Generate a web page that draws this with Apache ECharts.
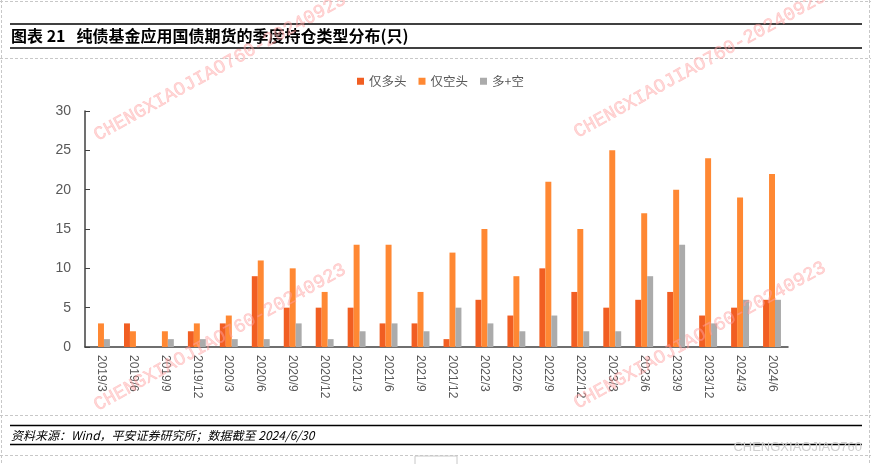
<!DOCTYPE html>
<html><head><meta charset="utf-8">
<script src="https://cdn.jsdelivr.net/npm/echarts@6/dist/echarts.min.js"></script>
<style>html,body{margin:0;padding:0;background:#fff}#c{width:871px;height:464px}</style>
</head><body><div id="c"></div>
<script>
var categories = ['2019/3','2019/6','2019/9','2019/12','2020/3','2020/6','2020/9','2020/12','2021/3','2021/6','2021/9','2021/12','2022/3','2022/6','2022/9','2022/12','2023/3','2023/6','2023/9','2023/12','2024/3','2024/6'];
var longOnly  = [0,3,0,2,3,9,5,5,5,3,3,1,6,4,10,7,5,6,7,4,5,6];
var shortOnly = [3,2,2,3,4,11,10,7,13,13,7,12,15,9,21,15,25,17,20,24,19,22];
var both      = [1,0,1,1,1,1,3,1,2,3,2,5,3,2,4,2,2,9,13,3,6,6];
var seriesNames = ['仅多头','仅空头','多+空'];
var titleText = '图表 21   纯债基金应用国债期货的季度持仓类型分布(只)';
var sourceText = '资料来源：Wind，平安证券研究所；数据截至 2024/6/30';
var wmText = 'CHENGXIAOJIAO760-20240923';

var chart = echarts.init(document.getElementById('c'), null, {renderer:'canvas'});
var font = '"Liberation Sans","Noto Sans CJK SC",sans-serif';
var gray = '#595959';
function wm(x,y){return {type:'text',x:x,y:y,rotation:Math.PI/6.2,z:100,silent:true,
  style:{text:wmText,fill:'rgba(255,170,170,0.45)',stroke:'rgba(255,120,120,0.35)',lineWidth:0.6,font:'19px "Liberation Mono",monospace',textAlign:'left',textVerticalAlign:'bottom'}};}
function hline(y,x1,x2,dash,color){return {type:'line',shape:{x1:x1,y1:y,x2:x2,y2:y},style:{stroke:color||'#000',lineWidth:dash?1:1.5,lineDash:dash?[3,2]:null}};}
function vline(x,y1,y2){return {type:'line',shape:{x1:x,y1:y1,x2:x,y2:y2},style:{stroke:'#c8c8c8',lineWidth:1,lineDash:[3,2]}};}
var option = {
  animation:false,
  textStyle:{fontFamily:font},
  color:['#F15E22','#FF8833','#ABABAB'],
  legend:{top:70,left:352,itemWidth:7,itemHeight:7,itemGap:12,icon:'rect',
    textStyle:{color:gray,fontSize:12.5,fontFamily:'"Noto Sans CJK SC",sans-serif'},data:seriesNames},
  grid:{left:85,right:83,top:111,bottom:117,containLabel:false},
  xAxis:{type:'category',data:categories,
    axisLine:{lineStyle:{color:'#404040',width:1.5}},
    axisTick:{inside:true,length:5,lineStyle:{color:'#404040'}},
    axisLabel:{rotate:-90,color:gray,fontSize:12,interval:0,margin:8,fontFamily:font}},
  yAxis:{type:'value',min:0,max:30,interval:5,
    axisLine:{show:true,lineStyle:{color:'#404040',width:1.5}},
    axisTick:{show:true,inside:true,length:5,lineStyle:{color:'#404040'}},
    splitLine:{show:false},
    axisLabel:{color:gray,fontSize:14,margin:14,fontFamily:font}},
  series:[
    {name:seriesNames[0],type:'bar',data:longOnly,barGap:'0%',barCategoryGap:'44%'},
    {name:seriesNames[1],type:'bar',data:shortOnly,barGap:'0%',barCategoryGap:'44%'},
    {name:seriesNames[2],type:'bar',data:both,barGap:'0%',barCategoryGap:'44%'}
  ],
  graphic:[
    vline(1.5,0,464), vline(869.5,0,464),
    hline(1.5,0,871,true,'#c8c8c8'), hline(58.5,0,871,true,'#c8c8c8'),
    hline(415.5,0,871,true,'#c8c8c8'), hline(455.5,0,871,true,'#c8c8c8'),
    hline(24,10,862), hline(48,10,862),
    hline(425.5,10,862), hline(444.5,10,862),
    {type:'text',x:11,y:36,style:{text:titleText,fill:'#000',font:'bold 16px "Noto Sans CJK SC",sans-serif',textVerticalAlign:'middle'}},
    {type:'text',x:11,y:435,style:{text:sourceText,fill:'#000',font:'italic 12px "Noto Sans CJK SC",sans-serif',textVerticalAlign:'middle'}},
    {type:'text',x:862,y:447,style:{text:'CHENGXIAOJIAO760',fill:'#d0d0d0',font:'13px "Liberation Sans",sans-serif',textAlign:'right',textVerticalAlign:'middle'}},
    {type:'rect',shape:{x:415,y:456,width:42,height:10},style:{fill:'#fff',stroke:'#c8c8c8',lineWidth:1}},
    wm(100,145), wm(580,142), wm(100,415), wm(580,413)
  ]
};
chart.setOption(option);
</script></body></html>
